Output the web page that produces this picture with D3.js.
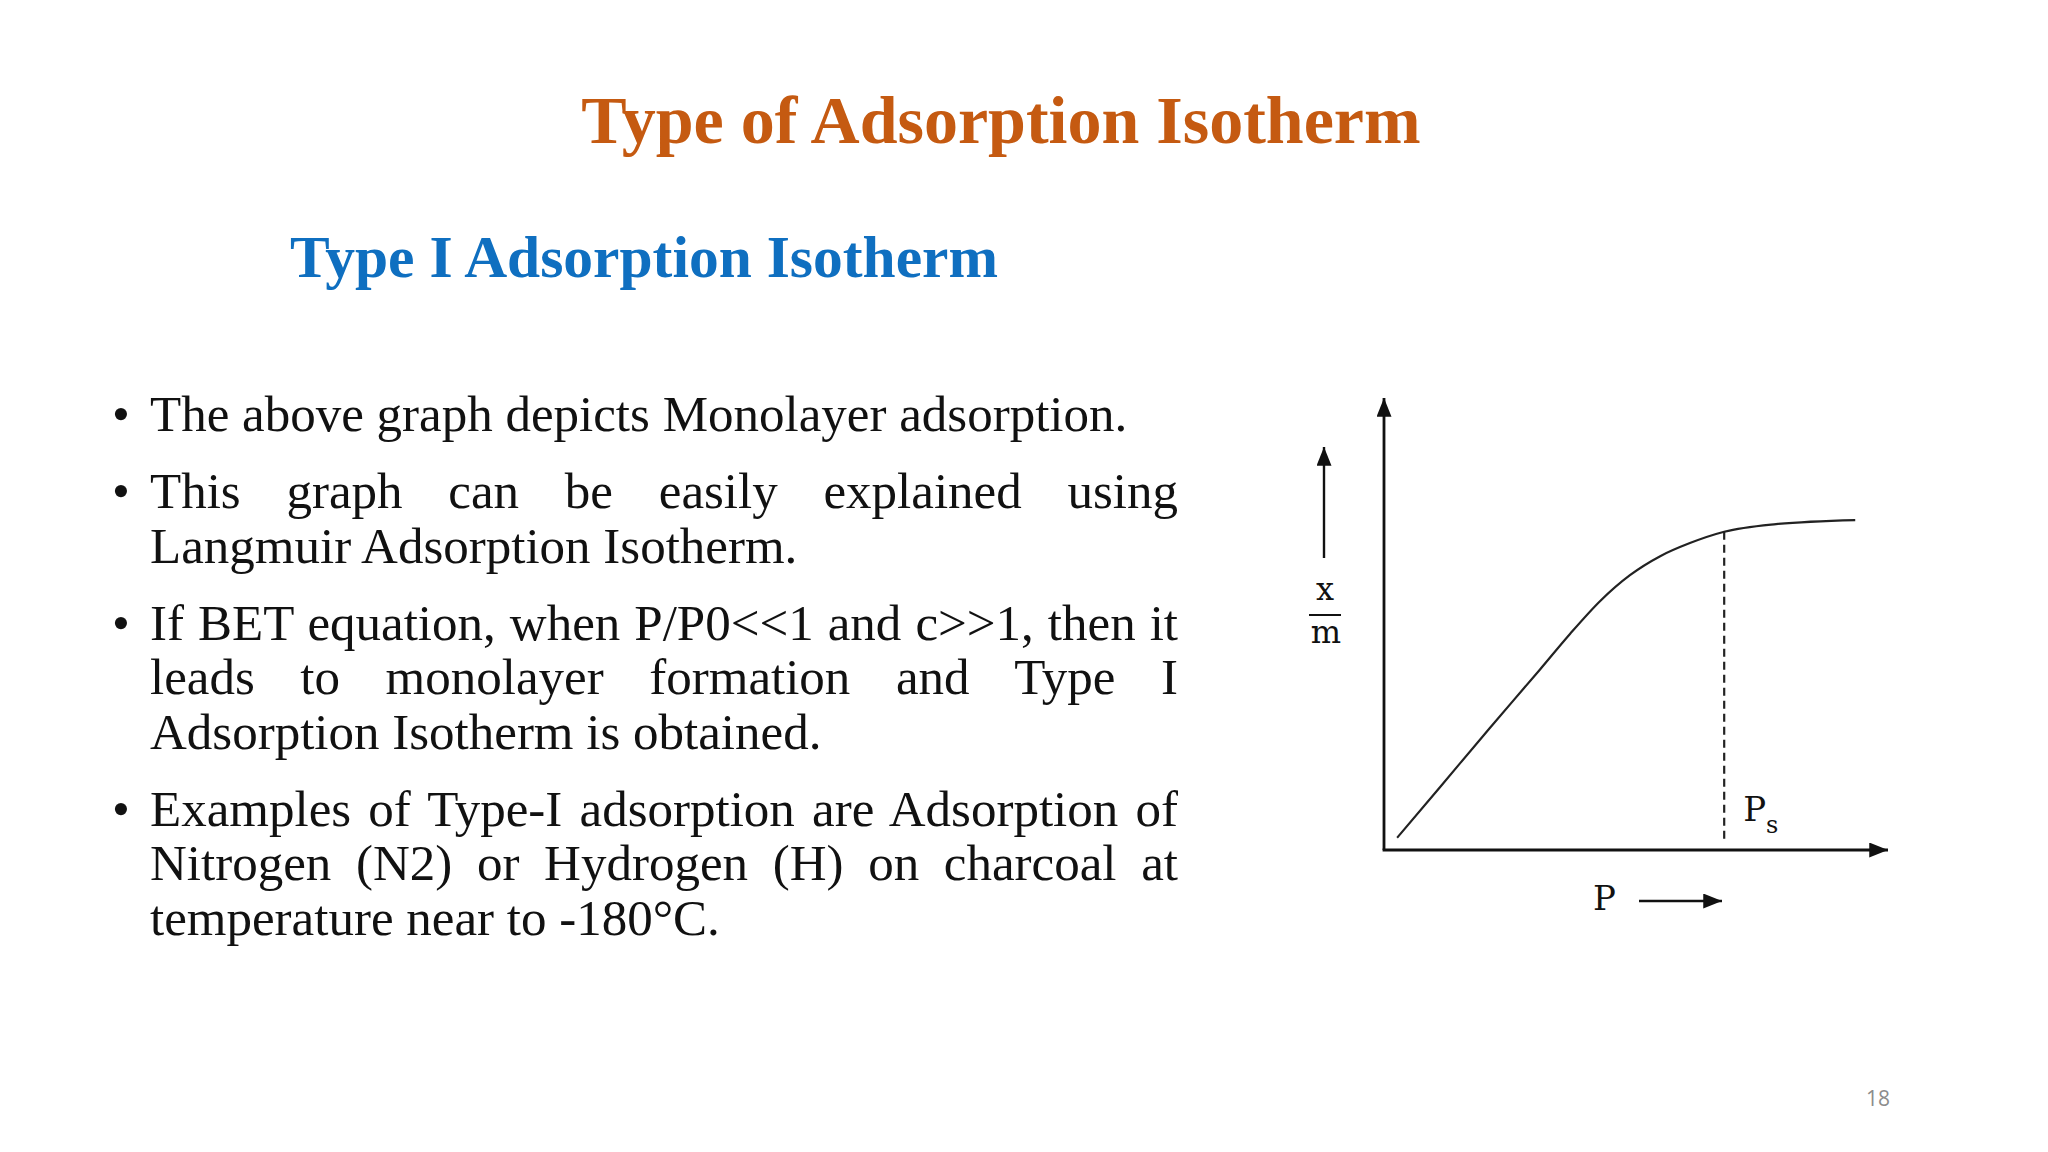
<!DOCTYPE html>
<html>
<head>
<meta charset="utf-8">
<script src="https://cdn.jsdelivr.net/npm/d3@7"></script>
<style>
  html,body{margin:0;padding:0;background:#fff;}
  svg{display:block;}
  .title{font-family:"Liberation Serif","Times New Roman",serif;font-weight:bold;}
  .body{font-family:"Liberation Serif","Times New Roman",serif;fill:#111;}
  .lab{font-family:"DejaVu Serif",serif;fill:#111;}
</style>
</head>
<body>
<svg id="slide" width="2048" height="1152"></svg>
<script>
// ── curve (P, x/m in arbitrary units 0..10) ──
const P_VALUES =[0.26,1.11,2.10,3.10,3.69,4.29,4.88,5.48,6.07,6.75,7.78,9.35];
const XM_VALUES=[0.27,1.39,2.70,4.00,4.78,5.51,6.08,6.50,6.79,7.04,7.21,7.30];
const PS=6.75;          // saturation pressure marker
const DOMAIN=[0,10];

const TITLE="Type of Adsorption Isotherm";
const SUBTITLE="Type I Adsorption Isotherm";
const BULLETS=[
  ["The above graph depicts Monolayer adsorption."],
  ["This graph can be easily explained using","Langmuir Adsorption Isotherm."],
  ["If BET equation, when P/P0<<1 and c>>1, then it","leads to monolayer formation and Type I","Adsorption Isotherm is obtained."],
  ["Examples of Type-I adsorption are Adsorption of","Nitrogen (N2) or Hydrogen (H) on charcoal at","temperature near to -180°C."]
];
const PAGE="18";

const svg=d3.select("#slide");

// ── headings ──
svg.append("text").attr("class","title").attr("x",1001).attr("y",143)
  .attr("text-anchor","middle").attr("font-size",68).attr("fill","#C55A11").text(TITLE);
svg.append("text").attr("class","title").attr("x",290).attr("y",277)
  .attr("font-size",59.5).attr("fill","#0F6FC0").text(SUBTITLE);

// ── bullet list, justified like the slide ──
const TX=150,TR=1178,LINE=54.5,PARA=77;
let y=431;
BULLETS.forEach(par=>{
  svg.append("text").attr("class","body").attr("x",112).attr("y",y).attr("font-size",51).text("•");
  par.forEach((ln,i)=>{
    const t=svg.append("text").attr("class","body").attr("x",TX).attr("y",y)
      .attr("font-size",51).attr("xml:space","preserve").text(ln);
    if(i<par.length-1){
      const gaps=(ln.match(/ /g)||[]).length;
      const extra=(TR-TX)-t.node().getComputedTextLength();
      if(gaps)t.attr("word-spacing",extra/gaps);
    }
    y+=(i<par.length-1)?LINE:PARA;
  });
});

svg.append("text").attr("x",1866).attr("y",1106).attr("font-size",21)
  .attr("font-family","'Open Sans',sans-serif").attr("fill","#8c8c8c").text(PAGE);

// ── isotherm plot ──
const x=d3.scaleLinear().domain(DOMAIN).range([1384,1888]);
const yS=d3.scaleLinear().domain(DOMAIN).range([850,398]);

const defs=svg.append("defs");
defs.append("marker").attr("id","ah").attr("viewBox","0 0 20 16")
  .attr("refX",20).attr("refY",8).attr("markerWidth",20).attr("markerHeight",15)
  .attr("markerUnits","userSpaceOnUse").attr("orient","auto")
  .append("path").attr("d","M0,0L20,8L0,16Z").attr("fill","#111");

const g=svg.append("g");
g.append("line").attr("x1",x(0)).attr("y1",yS(0)).attr("x2",x(0)).attr("y2",yS(10))
  .attr("stroke","#111").attr("stroke-width",2.8).attr("marker-end","url(#ah)");
g.append("line").attr("x1",x(0)-1.4).attr("y1",yS(0)).attr("x2",x(10)).attr("y2",yS(0))
  .attr("stroke","#111").attr("stroke-width",2.8).attr("marker-end","url(#ah)");

const pts=P_VALUES.map((p,i)=>[p,XM_VALUES[i]]);
g.append("path").datum(pts)
  .attr("d",d3.line().x(d=>x(d[0])).y(d=>yS(d[1])).curve(d3.curveMonotoneX))
  .attr("fill","none").attr("stroke","#222").attr("stroke-width",2.2);

const psY=XM_VALUES[P_VALUES.indexOf(PS)];
g.append("line").attr("x1",x(PS)).attr("x2",x(PS)).attr("y1",yS(psY)).attr("y2",yS(0.2))
  .attr("stroke","#222").attr("stroke-width",2.2).attr("stroke-dasharray","8,5");

// Ps label
const ps=g.append("text").attr("class","lab").attr("x",x(PS)+19).attr("y",821).attr("font-size",34);
ps.append("tspan").text("P");
ps.append("tspan").attr("font-size",24).attr("dy",12).text("s");

// y label: arrow + x/m
g.append("line").attr("x1",1324).attr("x2",1324).attr("y1",558).attr("y2",447)
  .attr("stroke","#111").attr("stroke-width",2.4).attr("marker-end","url(#ah)");
g.append("text").attr("class","lab").attr("x",1325).attr("y",600).attr("text-anchor","middle")
  .attr("font-size",32).text("x");
g.append("line").attr("x1",1309).attr("x2",1341).attr("y1",615).attr("y2",615)
  .attr("stroke","#111").attr("stroke-width",2);
g.append("text").attr("class","lab").attr("x",1326).attr("y",643).attr("text-anchor","middle")
  .attr("font-size",32).text("m");

// x label: P + arrow
g.append("text").attr("class","lab").attr("x",1593).attr("y",910).attr("font-size",34).text("P");
g.append("line").attr("x1",1639).attr("x2",1722).attr("y1",901).attr("y2",901)
  .attr("stroke","#111").attr("stroke-width",2.4).attr("marker-end","url(#ah)");
</script>
</body>
</html>
